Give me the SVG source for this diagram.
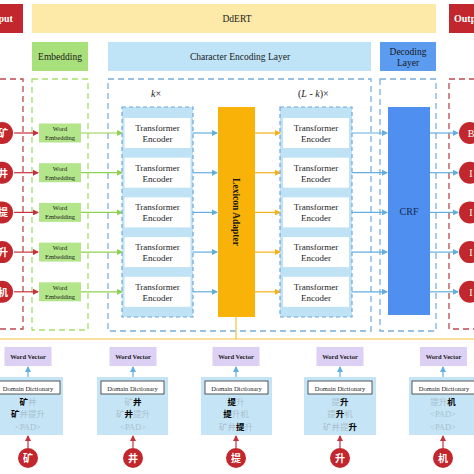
<svg xmlns="http://www.w3.org/2000/svg" width="474" height="474" viewBox="0 0 474 474">
<defs>
<marker id="ar" markerWidth="6" markerHeight="6" refX="5" refY="3" orient="auto" markerUnits="userSpaceOnUse"><path d="M0,0 L6,3 L0,6 z" fill="#c8313e"/></marker>
<marker id="ag" markerWidth="6" markerHeight="6" refX="5" refY="3" orient="auto" markerUnits="userSpaceOnUse"><path d="M0,0 L6,3 L0,6 z" fill="#8fd14f"/></marker>
<marker id="ab" markerWidth="6" markerHeight="6" refX="5" refY="3" orient="auto" markerUnits="userSpaceOnUse"><path d="M0,0 L6,3 L0,6 z" fill="#62aede"/></marker>
<marker id="ao" markerWidth="6" markerHeight="6" refX="5" refY="3" orient="auto" markerUnits="userSpaceOnUse"><path d="M0,0 L6,3 L0,6 z" fill="#f5b01a"/></marker>
</defs>
<style>
text{font-family:"Liberation Serif","Noto Sans CJK SC",serif;fill:#1a1a1a}
.cjk{font-family:"Noto Sans CJK SC",sans-serif}
.hd{font-size:9.5px;text-anchor:middle}
.te{font-size:9px;text-anchor:middle}
.we{font-size:6.5px;text-anchor:middle}
.wv{font-size:6.5px;text-anchor:middle;font-weight:bold}
.dd{font-size:6.5px;text-anchor:middle}
.dl{font-size:8.5px;text-anchor:middle}
.pad{font-size:8.5px}
.b{font-weight:bold;fill:#000}
.g{fill:#a9bfcd}
.ct{font-size:10px;fill:#fff;text-anchor:middle;font-family:"Noto Sans CJK SC",sans-serif;font-weight:bold}
.ot{font-size:10px;fill:#fff;text-anchor:middle;font-family:"Liberation Serif",serif}
.red{fill:#c1272d}
.dash{fill:none;stroke-width:1.3;stroke-dasharray:6,4}
.col{fill:#bfe3f5;stroke:#6fa8dc;stroke-width:1.2;stroke-dasharray:4,3}
.wb{fill:#fff}
.emb{fill:#b3e68a}
.lr{stroke:#c8313e;stroke-width:1.2;marker-end:url(#ar)}
.lg{stroke:#8fd14f;stroke-width:1.2;marker-end:url(#ag)}
.lb{stroke:#62aede;stroke-width:1.2;marker-end:url(#ab)}
.lo{stroke:#f5b01a;stroke-width:1.2;marker-end:url(#ao)}
.wvb{fill:#dcd1f4}
.dict{fill:#c5e5f6}
.ddb{fill:#fff;stroke:#333;stroke-width:0.8}
</style>

<!-- header -->
<g id="input-header"><rect x="-5" y="4" width="28" height="29" class="red"/><text x="-11" y="22" style="font-size:10px;fill:#fff;font-weight:bold">Input</text></g>
<g id="ddert-header"><rect x="32" y="4" width="404" height="29" fill="#fde9a8"/><text x="237" y="22" class="hd">DdERT</text></g>
<g id="output-header"><rect x="449" y="4" width="30" height="29" class="red"/><text x="454" y="22" style="font-size:10px;fill:#fff;font-weight:bold">Output</text></g>
<g id="embedding-header"><rect x="32" y="42" width="56" height="29" fill="#a8e07c"/><text x="60" y="60" class="hd">Embedding</text></g>
<g id="cel-header"><rect x="108" y="42" width="263" height="29" fill="#c0e4f7"/><text x="240" y="60" class="hd">Character Encoding Layer</text></g>
<g id="decoding-header"><rect x="380" y="42" width="56" height="29" fill="#5b9cf0"/><text x="408" y="55" class="hd">Decoding</text><text x="408" y="66" class="hd">Layer</text></g>

<!-- dashed regions -->
<g id="regions">
<rect x="-10" y="79" width="33" height="250" class="dash" stroke="#b94a4f"/>
<rect x="32" y="79" width="56" height="251" class="dash" stroke="#a6e06a"/>
<rect x="108" y="79" width="263" height="252" class="dash" stroke="#7aaee0"/>
<rect x="380" y="79" width="56" height="252" class="dash" stroke="#7aaee0"/>
<rect x="449" y="79" width="40" height="250" class="dash" stroke="#b94a4f"/>
</g>

<text x="151" y="97" style="font-size:10px"><tspan font-style="italic">k</tspan>×</text>
<text x="298" y="97" style="font-size:10px">(<tspan font-style="italic">L</tspan> - <tspan font-style="italic">k</tspan>)×</text>

<!-- connectors -->
<g id="connectors">
<line x1="14" y1="133" x2="38" y2="133" class="lr"/>
<line x1="14" y1="172.7" x2="38" y2="172.7" class="lr"/>
<line x1="14" y1="212.4" x2="38" y2="212.4" class="lr"/>
<line x1="14" y1="252.1" x2="38" y2="252.1" class="lr"/>
<line x1="14" y1="291.8" x2="38" y2="291.8" class="lr"/>
<line x1="81" y1="133" x2="122" y2="133" class="lg"/>
<line x1="81" y1="172.7" x2="122" y2="172.7" class="lg"/>
<line x1="81" y1="212.4" x2="122" y2="212.4" class="lg"/>
<line x1="81" y1="252.1" x2="122" y2="252.1" class="lg"/>
<line x1="81" y1="291.8" x2="122" y2="291.8" class="lg"/>
<line x1="193" y1="133" x2="217" y2="133" class="lb"/>
<line x1="193" y1="172.7" x2="217" y2="172.7" class="lb"/>
<line x1="193" y1="212.4" x2="217" y2="212.4" class="lb"/>
<line x1="193" y1="252.1" x2="217" y2="252.1" class="lb"/>
<line x1="193" y1="291.8" x2="217" y2="291.8" class="lb"/>
<line x1="255" y1="133" x2="280" y2="133" class="lo"/>
<line x1="255" y1="172.7" x2="280" y2="172.7" class="lo"/>
<line x1="255" y1="212.4" x2="280" y2="212.4" class="lo"/>
<line x1="255" y1="252.1" x2="280" y2="252.1" class="lo"/>
<line x1="255" y1="291.8" x2="280" y2="291.8" class="lo"/>
<line x1="352" y1="133" x2="387" y2="133" class="lb"/>
<line x1="352" y1="172.7" x2="387" y2="172.7" class="lb"/>
<line x1="352" y1="212.4" x2="387" y2="212.4" class="lb"/>
<line x1="352" y1="252.1" x2="387" y2="252.1" class="lb"/>
<line x1="352" y1="291.8" x2="387" y2="291.8" class="lb"/>
<line x1="430" y1="133" x2="458" y2="133" class="lb"/>
<line x1="430" y1="172.7" x2="458" y2="172.7" class="lb"/>
<line x1="430" y1="212.4" x2="458" y2="212.4" class="lb"/>
<line x1="430" y1="252.1" x2="458" y2="252.1" class="lb"/>
<line x1="430" y1="291.8" x2="458" y2="291.8" class="lb"/>
<polyline points="236,317 236,339" fill="none" stroke="#f5c040" stroke-width="1.2"/>
<line x1="0" y1="339" x2="474" y2="339" stroke="#f5c040" stroke-width="1.2"/>
<line x1="28" y1="377" x2="28" y2="367" class="lb"/>
<line x1="133" y1="377" x2="133" y2="367" class="lb"/>
<line x1="236" y1="377" x2="236" y2="367" class="lb"/>
<line x1="340" y1="377" x2="340" y2="367" class="lb"/>
<line x1="443" y1="377" x2="443" y2="367" class="lb"/>
<line x1="28" y1="448" x2="28" y2="436" class="lr"/>
<line x1="133" y1="448" x2="133" y2="436" class="lr"/>
<line x1="236" y1="448" x2="236" y2="436" class="lr"/>
<line x1="340" y1="448" x2="340" y2="436" class="lr"/>
<line x1="443" y1="448" x2="443" y2="436" class="lr"/>
</g>

<!-- input chars -->
<g id="in-1"><circle cx="2" cy="133" r="11" class="red"/><text x="3" y="137" class="ct">矿</text></g>
<g id="in-2"><circle cx="2" cy="172.7" r="11" class="red"/><text x="3" y="176.7" class="ct">井</text></g>
<g id="in-3"><circle cx="2" cy="212.4" r="11" class="red"/><text x="3" y="216.4" class="ct">提</text></g>
<g id="in-4"><circle cx="2" cy="252.1" r="11" class="red"/><text x="3" y="256.1" class="ct">升</text></g>
<g id="in-5"><circle cx="2" cy="291.8" r="11" class="red"/><text x="3" y="295.8" class="ct">机</text></g>

<!-- word embeddings -->
<g id="we-1"><rect x="39" y="123.5" width="42" height="19" class="emb"/><text x="60" y="131" class="we">Word</text><text x="60" y="140" class="we">Embedding</text></g>
<g id="we-2"><rect x="39" y="163.2" width="42" height="19" class="emb"/><text x="60" y="170.7" class="we">Word</text><text x="60" y="179.7" class="we">Embedding</text></g>
<g id="we-3"><rect x="39" y="202.9" width="42" height="19" class="emb"/><text x="60" y="210.4" class="we">Word</text><text x="60" y="219.4" class="we">Embedding</text></g>
<g id="we-4"><rect x="39" y="242.6" width="42" height="19" class="emb"/><text x="60" y="250.1" class="we">Word</text><text x="60" y="259.1" class="we">Embedding</text></g>
<g id="we-5"><rect x="39" y="282.3" width="42" height="19" class="emb"/><text x="60" y="289.8" class="we">Word</text><text x="60" y="298.8" class="we">Embedding</text></g>

<!-- transformer column 1 -->
<g id="tf-col1">
<rect x="122" y="107" width="71" height="210" class="col"/>
<rect x="124.5" y="118" width="66" height="30" class="wb"/><text x="157.5" y="131" class="te">Transformer</text><text x="157.5" y="142" class="te">Encoder</text>
<rect x="124.5" y="157.7" width="66" height="30" class="wb"/><text x="157.5" y="170.7" class="te">Transformer</text><text x="157.5" y="181.7" class="te">Encoder</text>
<rect x="124.5" y="197.4" width="66" height="30" class="wb"/><text x="157.5" y="210.4" class="te">Transformer</text><text x="157.5" y="221.4" class="te">Encoder</text>
<rect x="124.5" y="237.1" width="66" height="30" class="wb"/><text x="157.5" y="250.1" class="te">Transformer</text><text x="157.5" y="261.1" class="te">Encoder</text>
<rect x="124.5" y="276.8" width="66" height="30" class="wb"/><text x="157.5" y="289.8" class="te">Transformer</text><text x="157.5" y="300.8" class="te">Encoder</text>
</g>

<!-- lexicon adapter -->
<g id="lexicon-adapter"><rect x="218" y="107" width="37" height="210" fill="#f9b208"/><text transform="translate(233,212) rotate(90)" style="font-size:9.5px;font-weight:bold;text-anchor:middle">Lexicon Adapter</text></g>

<!-- transformer column 2 -->
<g id="tf-col2">
<rect x="280" y="107" width="72" height="210" class="col"/>
<rect x="283" y="118" width="66" height="30" class="wb"/><text x="316" y="131" class="te">Transformer</text><text x="316" y="142" class="te">Encoder</text>
<rect x="283" y="157.7" width="66" height="30" class="wb"/><text x="316" y="170.7" class="te">Transformer</text><text x="316" y="181.7" class="te">Encoder</text>
<rect x="283" y="197.4" width="66" height="30" class="wb"/><text x="316" y="210.4" class="te">Transformer</text><text x="316" y="221.4" class="te">Encoder</text>
<rect x="283" y="237.1" width="66" height="30" class="wb"/><text x="316" y="250.1" class="te">Transformer</text><text x="316" y="261.1" class="te">Encoder</text>
<rect x="283" y="276.8" width="66" height="30" class="wb"/><text x="316" y="289.8" class="te">Transformer</text><text x="316" y="300.8" class="te">Encoder</text>
</g>

<!-- CRF -->
<g id="crf"><rect x="388" y="107" width="42" height="208" fill="#4f8ff0"/><text x="409" y="215" style="font-size:10px;text-anchor:middle;fill:#152a55">CRF</text></g>

<!-- outputs -->
<g id="out-1"><circle cx="470" cy="133" r="11" class="red"/><text x="471" y="137" class="ot">B</text></g>
<g id="out-2"><circle cx="470" cy="172.7" r="11" class="red"/><text x="471" y="176.7" class="ot">I</text></g>
<g id="out-3"><circle cx="470" cy="212.4" r="11" class="red"/><text x="471" y="216.4" class="ot">I</text></g>
<g id="out-4"><circle cx="470" cy="252.1" r="11" class="red"/><text x="471" y="256.1" class="ot">I</text></g>
<g id="out-5"><circle cx="470" cy="291.8" r="11" class="red"/><text x="471" y="295.8" class="ot">I</text></g>

<!-- bottom lexicon columns -->
<g id="lex-1">
<rect x="4.5" y="347" width="47" height="19" class="wvb"/><text x="28" y="359" class="wv">Word Vector</text>
<rect x="-7" y="377" width="70" height="58" class="dict"/>
<rect x="-3" y="381" width="63" height="13" class="ddb"/><text x="28" y="390.5" class="dd">Domain Dictionary</text>
<text x="28" y="404.5" class="dl cjk"><tspan class="b">矿</tspan><tspan class="g">井</tspan></text>
<text x="28" y="417" class="dl cjk"><tspan class="b">矿</tspan><tspan class="g">井提升</tspan></text>
<text x="28" y="429.5" class="dl g pad">&lt;PAD&gt;</text>
<circle cx="28" cy="458" r="10" class="red"/><text x="28" y="462" class="ct">矿</text>
</g>
<g id="lex-2">
<rect x="109.5" y="347" width="47" height="19" class="wvb"/><text x="133" y="359" class="wv">Word Vector</text>
<rect x="97" y="377" width="71" height="58" class="dict"/>
<rect x="101" y="381" width="63" height="13" class="ddb"/><text x="132.5" y="390.5" class="dd">Domain Dictionary</text>
<text x="133" y="404.5" class="dl cjk"><tspan class="g">矿</tspan><tspan class="b">井</tspan></text>
<text x="133" y="417" class="dl cjk"><tspan class="g">矿</tspan><tspan class="b">井</tspan><tspan class="g">提升</tspan></text>
<text x="133" y="429.5" class="dl g pad">&lt;PAD&gt;</text>
<circle cx="133" cy="458" r="10" class="red"/><text x="133" y="462" class="ct">井</text>
</g>
<g id="lex-3">
<rect x="212.5" y="347" width="47" height="19" class="wvb"/><text x="236" y="359" class="wv">Word Vector</text>
<rect x="201" y="377" width="71" height="58" class="dict"/>
<rect x="205" y="381" width="63" height="13" class="ddb"/><text x="236.5" y="390.5" class="dd">Domain Dictionary</text>
<text x="236" y="404.5" class="dl cjk"><tspan class="b">提</tspan><tspan class="g">升</tspan></text>
<text x="236" y="417" class="dl cjk"><tspan class="b">提</tspan><tspan class="g">升机</tspan></text>
<text x="236" y="429.5" class="dl cjk"><tspan class="g">矿井</tspan><tspan class="b">提</tspan><tspan class="g">升</tspan></text>
<circle cx="236" cy="458" r="10" class="red"/><text x="236" y="462" class="ct">提</text>
</g>
<g id="lex-4">
<rect x="316.5" y="347" width="47" height="19" class="wvb"/><text x="340" y="359" class="wv">Word Vector</text>
<rect x="304" y="377" width="72" height="58" class="dict"/>
<rect x="308" y="381" width="64" height="13" class="ddb"/><text x="340" y="390.5" class="dd">Domain Dictionary</text>
<text x="340" y="404.5" class="dl cjk"><tspan class="g">提</tspan><tspan class="b">升</tspan></text>
<text x="340" y="417" class="dl cjk"><tspan class="g">提</tspan><tspan class="b">升</tspan><tspan class="g">机</tspan></text>
<text x="340" y="429.5" class="dl cjk"><tspan class="g">矿井提</tspan><tspan class="b">升</tspan></text>
<circle cx="340" cy="458" r="10" class="red"/><text x="340" y="462" class="ct">升</text>
</g>
<g id="lex-5">
<rect x="420" y="347" width="47" height="19" class="wvb"/><text x="443.5" y="359" class="wv">Word Vector</text>
<rect x="409" y="377" width="72" height="58" class="dict"/>
<rect x="412" y="381" width="64" height="13" class="ddb"/><text x="444" y="390.5" class="dd">Domain Dictionary</text>
<text x="443" y="404.5" class="dl cjk"><tspan class="g">提升</tspan><tspan class="b">机</tspan></text>
<text x="443" y="417" class="dl g pad">&lt;PAD&gt;</text>
<text x="443" y="429.5" class="dl g pad">&lt;PAD&gt;</text>
<circle cx="443" cy="458" r="10" class="red"/><text x="443" y="462" class="ct">机</text>
</g>
</svg>
